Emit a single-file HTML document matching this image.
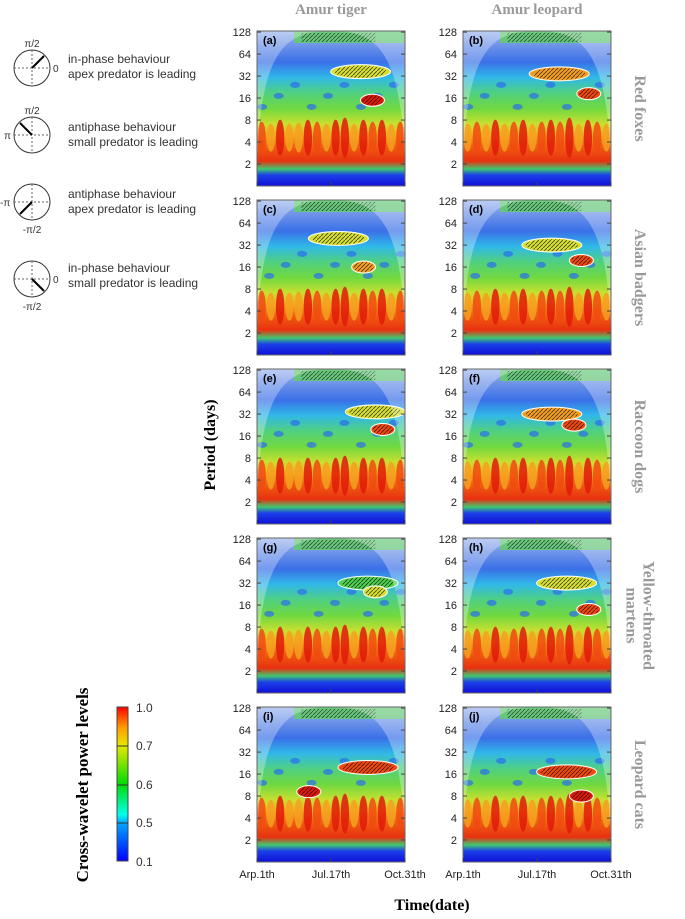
<!DOCTYPE html>
<html><head><meta charset="utf-8">
<style>
body{margin:0;background:#fff;width:685px;height:919px;overflow:hidden;font-family:"Liberation Sans",sans-serif;}
svg{display:block}
</style></head>
<body>
<svg id="fig" width="685" height="919" viewBox="0 0 685 919" xmlns="http://www.w3.org/2000/svg">
<defs>
<linearGradient id="baseGrad" x1="0" y1="0" x2="0" y2="1">
<stop offset="0" stop-color="#9fb8ee"/>
<stop offset="0.1" stop-color="#6a90e8"/>
<stop offset="0.2" stop-color="#3a70e8"/>
<stop offset="0.3" stop-color="#30b8e8"/>
<stop offset="0.4" stop-color="#50d080"/>
<stop offset="0.5" stop-color="#70d840"/>
<stop offset="0.6" stop-color="#c8e030"/>
<stop offset="0.67" stop-color="#f5b020"/>
<stop offset="0.74" stop-color="#f06010"/>
<stop offset="0.84" stop-color="#e83010"/>
<stop offset="0.89" stop-color="#40c870"/>
<stop offset="0.93" stop-color="#1a40e8"/>
<stop offset="1" stop-color="#1010d8"/>
</linearGradient>
<linearGradient id="cbGrad" x1="0" y1="1" x2="0" y2="0">
<stop offset="0" stop-color="#0000ff"/>
<stop offset="0.25" stop-color="#00aaff"/>
<stop offset="0.3" stop-color="#00ffee"/>
<stop offset="0.5" stop-color="#00dd00"/>
<stop offset="0.75" stop-color="#e8e800"/>
<stop offset="0.87" stop-color="#ff9900"/>
<stop offset="1" stop-color="#ff0000"/>
</linearGradient>
<pattern id="hatch" width="4" height="4" patternUnits="userSpaceOnUse">
<path d="M0,4 L4,0" stroke="#000" stroke-width="0.8"/>
</pattern>
</defs>
<g id="panels"></g>
<g id="labels"></g>
</svg>
<script>
// Chart data
const columnTitles = ["Amur tiger", "Amur leopard"];
const rowTitles = [["Red foxes"], ["Asian badgers"], ["Raccoon dogs"], ["Yellow-throated", "martens"], ["Leopard cats"]];
const panelLetters = ["(a)","(b)","(c)","(d)","(e)","(f)","(g)","(h)","(i)","(j)"];
const periodTicks = [128, 64, 32, 16, 8, 4, 2];
const dateTicks = ["Arp.1th", "Jul.17th", "Oct.31th"];
const dateTickFrac = [0, 0.5, 1];
const colorbarTicks = ["1.0", "0.7", "0.6", "0.5", "0.1"];
// per-panel red-band column intensities (0-1) across time
const redBandA = [0.8,0.7,0.9,0.7,0.75,0.9,0.8,0.7,0.9,1.0,0.7,0.9,0.8,0.9,0.7,0.8];
const redBandB = [0.7,0.8,0.7,0.9,0.7,0.8,0.9,0.7,0.8,0.9,0.8,1.0,0.7,0.9,0.8,0.7];
// significant region (yellow/orange) : time fraction, log2 period, power
const sigT = [[0.7,0.78],[0.65,0.85],[0.55,0.72],[0.6,0.8],[0.8,0.85],[0.6,0.75],[0.75,0.8],[0.7,0.85],[0.75,0.35],[0.7,0.8]];
const sigP = [[5.2,3.9],[5.1,4.2],[5.3,4.0],[5.0,4.3],[5.1,4.3],[5.0,4.5],[5.0,4.6],[5.0,3.8],[4.3,3.2],[4.1,3.0]];
const sigPow = [[0.7,0.95],[0.75,0.9],[0.7,0.8],[0.7,0.85],[0.7,0.85],[0.75,0.9],[0.6,0.7],[0.7,0.9],[0.85,0.95],[0.85,0.95]];

const NS = "http://www.w3.org/2000/svg";
const panelsG = document.getElementById('panels');
const labelsG = document.getElementById('labels');
const colX = [257, 463];
const rowY0 = 31, rowStep = 169, PW = 148, PH = 155;

function mk(tag, attrs, parent){
  const e = document.createElementNS(NS, tag);
  for (const k in attrs) e.setAttribute(k, attrs[k]);
  parent.appendChild(e);
  return e;
}
function yScale(log2p){ return PH - log2p * (PH / 7.05); }
function color(v){
  if (v > 0.9) return "#e01a0a";
  if (v > 0.8) return "#f04a10";
  if (v > 0.7) return "#f5a020";
  if (v > 0.6) return "#d8e030";
  return "#50d050";
}

for (let i = 0; i < 10; i++){
  const c = i % 2, r = Math.floor(i / 2);
  const x0 = colX[c], y0 = rowY0 + r * rowStep;
  const g = mk('g', {transform:`translate(${x0},${y0})`}, panelsG);
  
  
  mk('rect', {x:0,y:0,width:PW,height:PH,fill:'url(#baseGrad)'}, g);
  const band = c === 0 ? redBandA : redBandB;
  band.forEach((v, j) => {
    const cx = (j + 0.5) / band.length * PW;
    const e = mk('ellipse', {cx:cx, cy:yScale(2.2), rx:PW/band.length*0.45, ry:20*v, fill:color(v+0.05), opacity:0.85}, g);
    
    
  });
  for (let j = 0; j < 9; j++){
    const e = mk('ellipse', {cx:(j+0.5)/9*PW + (r%2?4:-3), cy:yScale(3.6 + (j%3)*0.5), rx:5, ry:3, fill:'#2a6ef0', opacity:0.7}, g);
    
    
  }
  mk('rect', {x:PW*0.25,y:0,width:PW*0.75,height:12,fill:'#60d060',opacity:0.8}, g);
  mk('rect', {x:PW*0.3,y:2,width:PW*0.5,height:9,fill:'url(#hatch)',opacity:0.6}, g);
  for (let k = 0; k < 2; k++){
    const cx = sigT[i][k] * PW, cy = yScale(sigP[i][k]);
    const e = mk('ellipse', {cx:cx, cy:cy, rx:k?12:30, ry:k?6:7, fill:color(sigPow[i][k]), stroke:'#fff', 'stroke-width':1}, g);
    
    
    mk('ellipse', {cx:cx, cy:cy, rx:k?10:26, ry:k?5:6, fill:'url(#hatch)', opacity:0.7}, g);
  }
  mk('path', {d:`M0,0 H${PW} V${PH} H0 Z M0,${PH} C0,${PH*0.1} ${PW*0.2},0 ${PW/2},0 C${PW*0.8},0 ${PW},${PH*0.1} ${PW},${PH} Z`, fill:'#fff', 'fill-rule':'evenodd', opacity:0.3}, g);
  mk('rect', {x:0,y:0,width:PW,height:PH,fill:'none',stroke:'#666','stroke-width':1}, g);
  const lt = mk('text', {x:6,y:13,'font-size':11,'font-weight':'bold',fill:'#000'}, g);
  lt.textContent = panelLetters[i];
  
  
  periodTicks.forEach(p => {
    const y = yScale(Math.log2(p));
    mk('line', {x1:0,x2:4,y1:y,y2:y,stroke:'#444'}, g);
    mk('line', {x1:PW-4,x2:PW,y1:y,y2:y,stroke:'#444'}, g);
    const t = mk('text', {x:-6,y:y+4,'font-size':11,'text-anchor':'end',fill:'#222'}, g);
    t.textContent = p;
    
    
  });
  dateTickFrac.forEach((f, k) => {
    mk('line', {x1:f*PW,x2:f*PW,y1:PH,y2:PH-4,stroke:'#444'}, g);
    if (r === 4){
      const t = mk('text', {x:f*PW,y:PH+16,'font-size':11,'text-anchor':'middle',fill:'#222'}, g);
      t.textContent = dateTicks[k];
      
      
    }
  });
}

columnTitles.forEach((s, c) => {
  const t = mk('text', {x:colX[c]+PW/2,y:14,'font-size':15,'font-weight':'bold','font-family':'Liberation Serif, serif','text-anchor':'middle',fill:'#999'}, labelsG);
  t.textContent = s;
  
  
});
rowTitles.forEach((lines, r) => {
  const cy = rowY0 + r*rowStep + PH/2;
  lines.forEach((s, k) => {
    const x = 635 - (k - (lines.length-1)/2) * 17;
    const t = mk('text', {x:x,y:cy,'font-size':16,'font-weight':'bold','font-family':'Liberation Serif, serif','text-anchor':'middle',fill:'#999',transform:`rotate(90 ${x} ${cy})`}, labelsG);
    t.textContent = s;
    
    
  });
});
</script>
<svg style="position:absolute;left:0;top:0" width="685" height="919" xmlns="http://www.w3.org/2000/svg">
<text x="215" y="445" font-size="16" font-weight="bold" font-family="Liberation Serif, serif" text-anchor="middle" transform="rotate(-90 215 445)">Period  (days)</text>
<text x="432" y="910" font-size="16" font-weight="bold" font-family="Liberation Serif, serif" text-anchor="middle">Time(date)</text>
<g>
<rect x="117" y="707" width="11" height="154" fill="url(#cbGrad)" stroke="#444"/>
<line x1="117" x2="128" y1="746" y2="746" stroke="#333"/>
<line x1="117" x2="128" y1="785" y2="785" stroke="#333"/>
<line x1="117" x2="128" y1="823" y2="823" stroke="#333"/>
<text x="136" y="712" font-size="12" fill="#333">1.0</text>
<text x="136" y="750" font-size="12" fill="#333">0.7</text>
<text x="136" y="789" font-size="12" fill="#333">0.6</text>
<text x="136" y="827" font-size="12" fill="#333">0.5</text>
<text x="136" y="866" font-size="12" fill="#333">0.1</text>
</g>
<text x="88" y="785" font-size="17" font-weight="bold" font-family="Liberation Serif, serif" text-anchor="middle" transform="rotate(-90 88 785)">Cross-wavelet  power levels</text>
<g font-size="12" fill="#333">
<g>
<circle cx="32" cy="68" r="18" fill="none" stroke="#333"/>
<line x1="14" x2="50" y1="68" y2="68" stroke="#666" stroke-dasharray="2,2"/><line x1="32" x2="32" y1="50" y2="86" stroke="#666" stroke-dasharray="2,2"/>
<line x1="32" y1="68" x2="44" y2="56" stroke="#000" stroke-width="2"/>
<text x="32" y="47" font-size="10" text-anchor="middle">π/2</text><text x="53" y="72" font-size="10">0</text>
<text x="68" y="63">in-phase behaviour</text><text x="68" y="78">apex predator is leading</text>
</g>
<g>
<circle cx="32" cy="135" r="18" fill="none" stroke="#333"/>
<line x1="14" x2="50" y1="135" y2="135" stroke="#666" stroke-dasharray="2,2"/><line x1="32" x2="32" y1="117" y2="153" stroke="#666" stroke-dasharray="2,2"/>
<line x1="32" y1="135" x2="20" y2="123" stroke="#000" stroke-width="2"/>
<text x="32" y="114" font-size="10" text-anchor="middle">π/2</text><text x="4" y="139" font-size="10">π</text>
<text x="68" y="131">antiphase behaviour</text><text x="68" y="146">small predator is leading</text>
</g>
<g>
<circle cx="32" cy="202" r="18" fill="none" stroke="#333"/>
<line x1="14" x2="50" y1="202" y2="202" stroke="#666" stroke-dasharray="2,2"/><line x1="32" x2="32" y1="184" y2="220" stroke="#666" stroke-dasharray="2,2"/>
<line x1="32" y1="202" x2="20" y2="214" stroke="#000" stroke-width="2"/>
<text x="0" y="206" font-size="10">-π</text><text x="32" y="233" font-size="10" text-anchor="middle">-π/2</text>
<text x="68" y="198">antiphase behaviour</text><text x="68" y="213">apex predator is leading</text>
</g>
<g>
<circle cx="32" cy="279" r="18" fill="none" stroke="#333"/>
<line x1="14" x2="50" y1="279" y2="279" stroke="#666" stroke-dasharray="2,2"/><line x1="32" x2="32" y1="261" y2="297" stroke="#666" stroke-dasharray="2,2"/>
<line x1="32" y1="279" x2="44" y2="291" stroke="#000" stroke-width="2"/>
<text x="53" y="283" font-size="10">0</text><text x="32" y="310" font-size="10" text-anchor="middle">-π/2</text>
<text x="68" y="272">in-phase behaviour</text><text x="68" y="287">small predator is leading</text>
</g>
</g>
</svg>
</body></html>
